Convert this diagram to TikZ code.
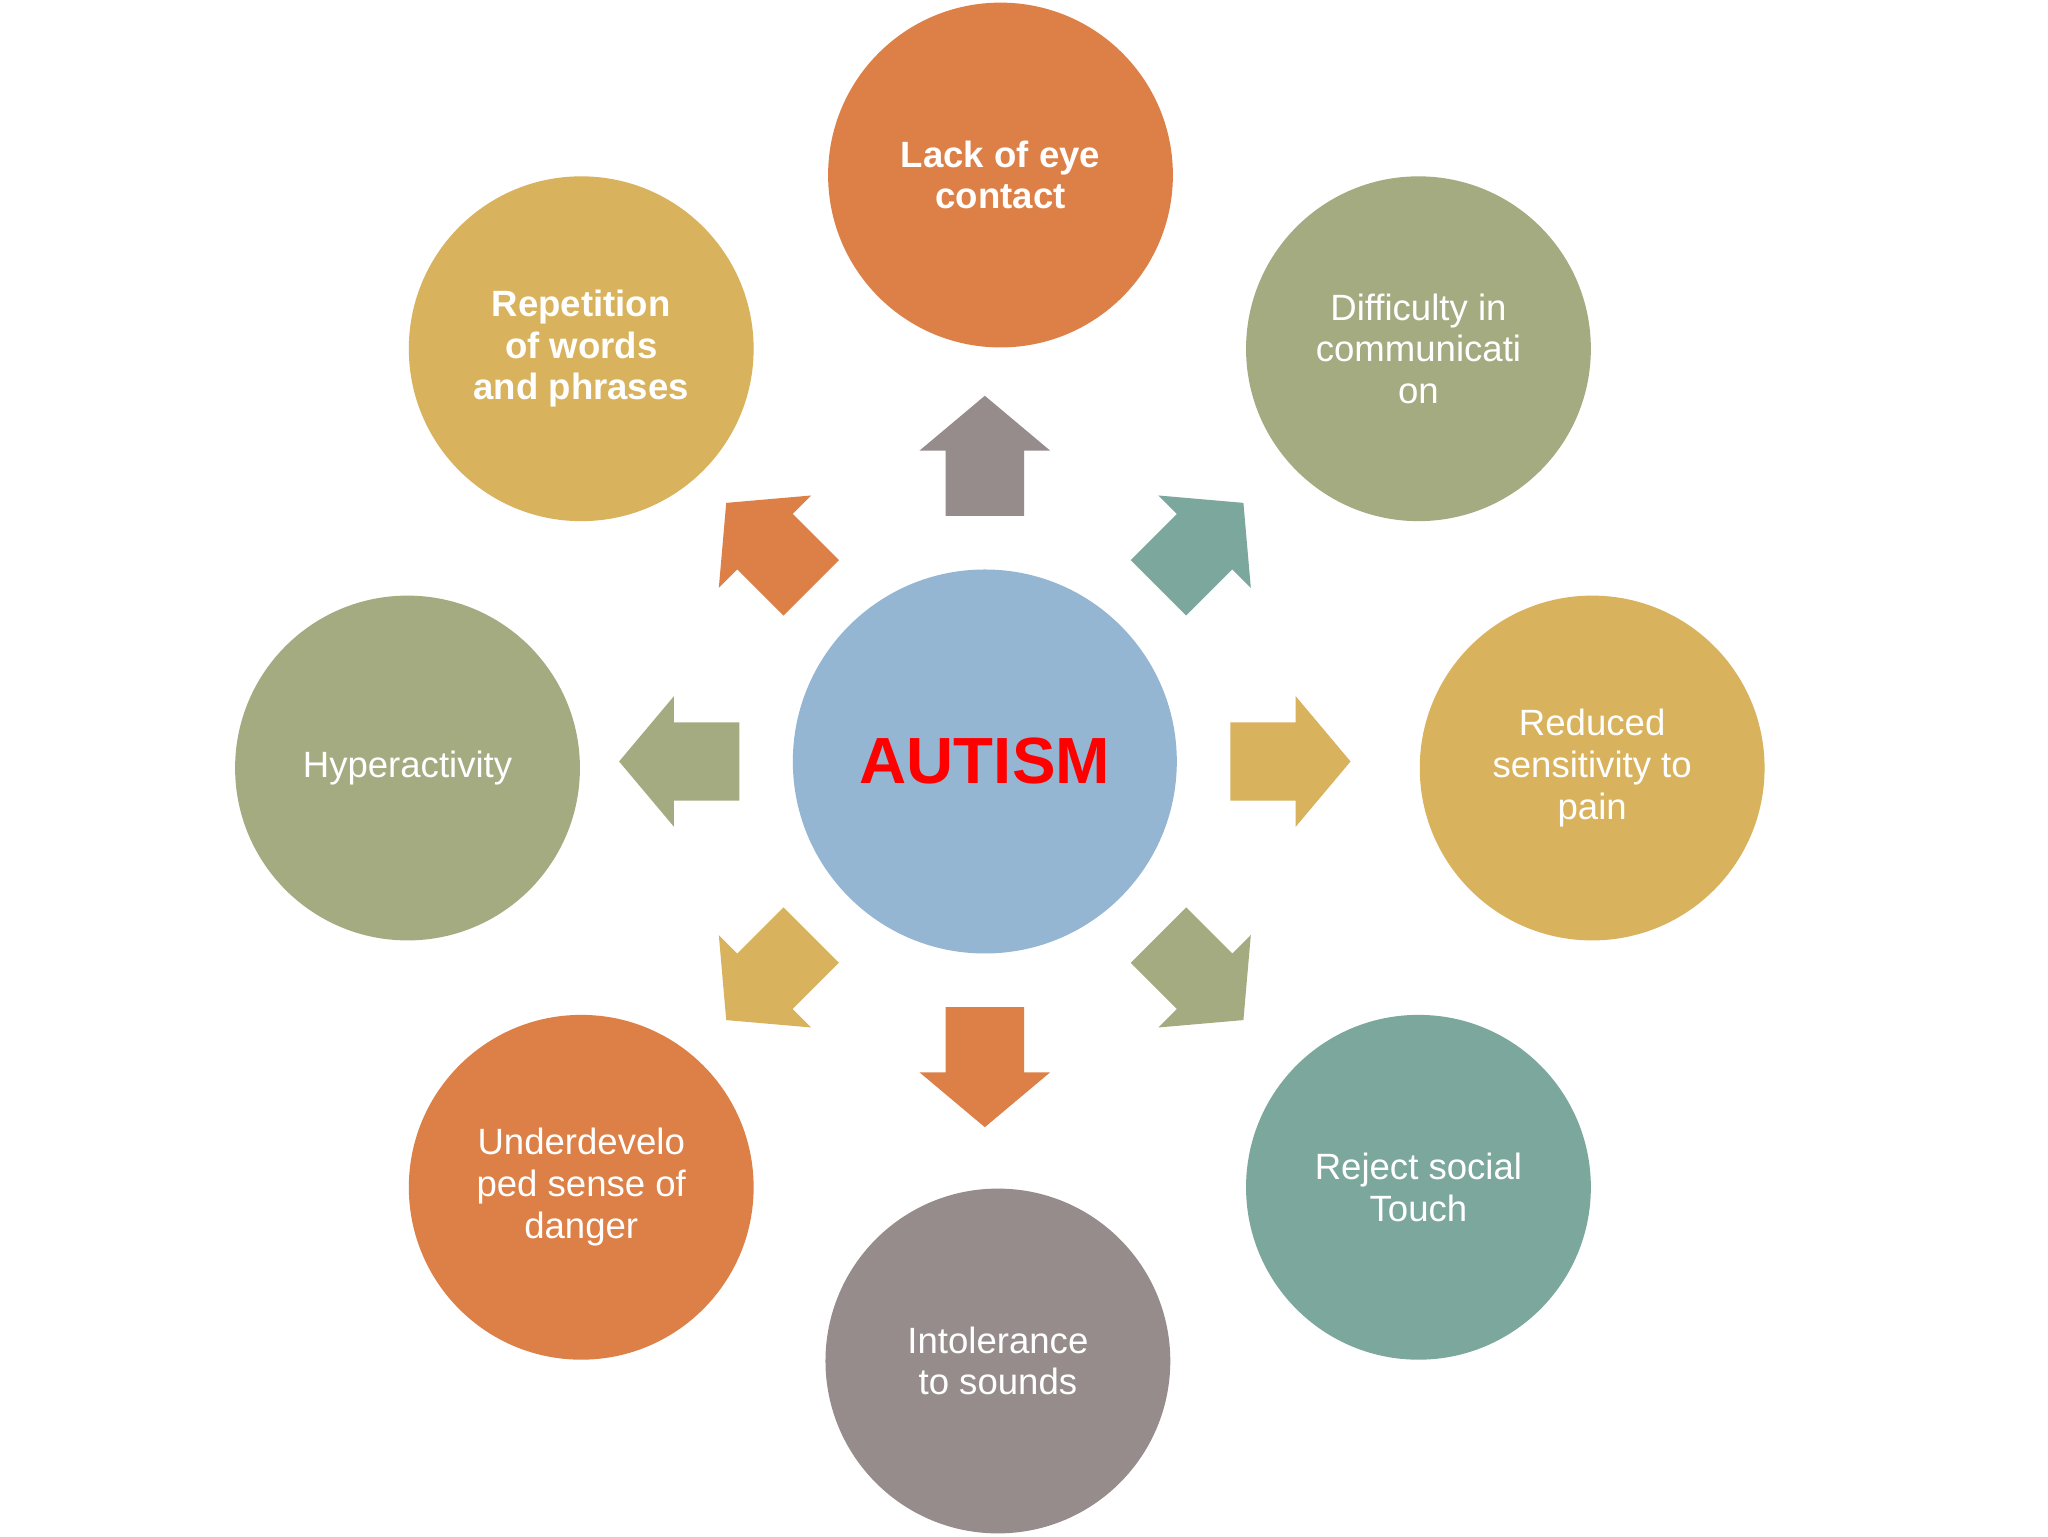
\documentclass[tikz,border=0pt]{standalone}
\usepackage{fontspec}
\setmainfont{Liberation Sans}
\definecolor{corange}{HTML}{DD8047}
\definecolor{colive}{HTML}{A5AB81}
\definecolor{cgold}{HTML}{D8B25C}
\definecolor{cteal}{HTML}{7BA79D}
\definecolor{cmauve}{HTML}{968C8C}
\definecolor{cblue}{HTML}{94B6D2}
\tikzset{
 bub/.style={circle,minimum size=264pt,inner sep=0pt,text=white,align=center,font=\fontsize{28}{32}\selectfont},
 bubb/.style={bub,font=\bfseries\fontsize{28}{32}\selectfont},
}
\newcommand{\blockarrow}[2]{\fill[#2,shift={(754,583)},rotate=#1] (188,-30) -- (238,-30) -- (238,-50) -- (280,0) -- (238,50) -- (238,30) -- (188,30) -- cycle;}
\begin{document}
\begin{tikzpicture}[x=1pt,y=-1pt]
\useasboundingbox[fill=white] (0,0) rectangle (1568,1176);
\node[circle,minimum size=294pt,inner sep=0pt,fill=cblue,text=red,font=\bfseries\fontsize{50}{56}\selectfont] (c) at (754,583) {AUTISM};
\node[bubb,fill=corange] (n1) at (766,134) {Lack of eye\\contact};
\node[bub,fill=colive] (n2) at (1086,267) {Difficulty in\\communicati\\on};
\node[bub,fill=cgold] (n3) at (1219,588) {Reduced\\sensitivity to\\pain};
\node[bub,fill=cteal] (n4) at (1086,909) {Reject social\\Touch};
\node[bub,fill=cmauve] (n5) at (764,1042) {Intolerance\\to sounds};
\node[bub,fill=corange] (n6) at (445,909) {Underdevelo\\ped sense of\\danger};
\node[bub,fill=colive] (n7) at (312,588) {Hyperactivity};
\node[bubb,fill=cgold] (n8) at (445,267) {Repetition\\of words\\and phrases};
\blockarrow{-90}{corange}
\blockarrow{-45}{colive}
\blockarrow{0}{cgold}
\blockarrow{45}{cteal}
\blockarrow{90}{cmauve}
\blockarrow{135}{corange}
\blockarrow{180}{colive}
\blockarrow{-135}{cgold}
\end{tikzpicture}
\end{document}
